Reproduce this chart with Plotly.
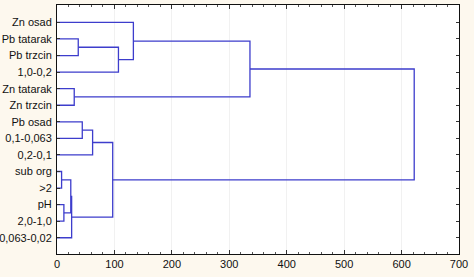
import plotly.graph_objects as go

# Leaf labels, top to bottom
labels = ["Zn osad", "Pb tatarak", "Pb trzcin", "1,0-0,2", "Zn tatarak", "Zn trzcin",
          "Pb osad", "0,1-0,063", "0,2-0,1", "sub org", ">2", "pH", "2,0-1,0", "0,063-0,02"]

# Linkage: (left cluster id, right cluster id, linkage distance); new ids start at len(labels)
merge_left = [1, 14, 0, 4, 16, 6, 19, 9, 11, 21, 23, 20, 18]
merge_right = [2, 3, 15, 5, 17, 7, 8, 10, 12, 22, 13, 24, 25]
merge_dist = [37, 107, 133, 30, 336, 44, 62, 8, 12, 24, 25.5, 97, 622]

xticks = [0, 100, 200, 300, 400, 500, 600, 700]

n = len(labels)
pos = {i: (0.0, float(i)) for i in range(n)}  # cluster id -> (height, y)
xs, ys = [], []
for k, (a, b, d) in enumerate(zip(merge_left, merge_right, merge_dist)):
    ha, ya = pos[a]
    hb, yb = pos[b]
    xs += [ha, d, d, hb, None]
    ys += [ya, ya, yb, yb, None]
    pos[n + k] = (d, (ya + yb) / 2)

fig = go.Figure(go.Scatter(x=xs, y=ys, mode="lines",
                           line=dict(color="#3d3dcc", width=1.3),
                           hoverinfo="skip", showlegend=False))

fig.update_layout(
    width=474, height=277,
    margin=dict(l=57, r=15, t=5, b=23),
    paper_bgcolor="#fdf8ee", plot_bgcolor="#ffffff",
    font=dict(family="Liberation Sans, Arial", size=11, color="#111111"),
)
fig.update_xaxes(range=[0, 700], tickvals=xticks, showline=True, linecolor="#111111",
                 linewidth=1, mirror="ticks", ticks="inside", ticklen=4, tickcolor="#333333",
                 minor=dict(dtick=20, ticks="inside", ticklen=2, tickcolor="#555555", showgrid=False),
                 showgrid=True, gridcolor="#f1f1f1", zeroline=False, tickfont=dict(size=11),
                 automargin=False)
fig.update_yaxes(range=[13.98, -1.05], tickvals=list(range(n)), ticktext=labels,
                 showline=True, linecolor="#111111", linewidth=1, mirror="ticks",
                 ticks="inside", ticklen=3, tickcolor="#333333", showgrid=False,
                 zeroline=False, tickfont=dict(size=11), ticklabelstandoff=2,
                 automargin=False)

fig.write_html("out.html")
